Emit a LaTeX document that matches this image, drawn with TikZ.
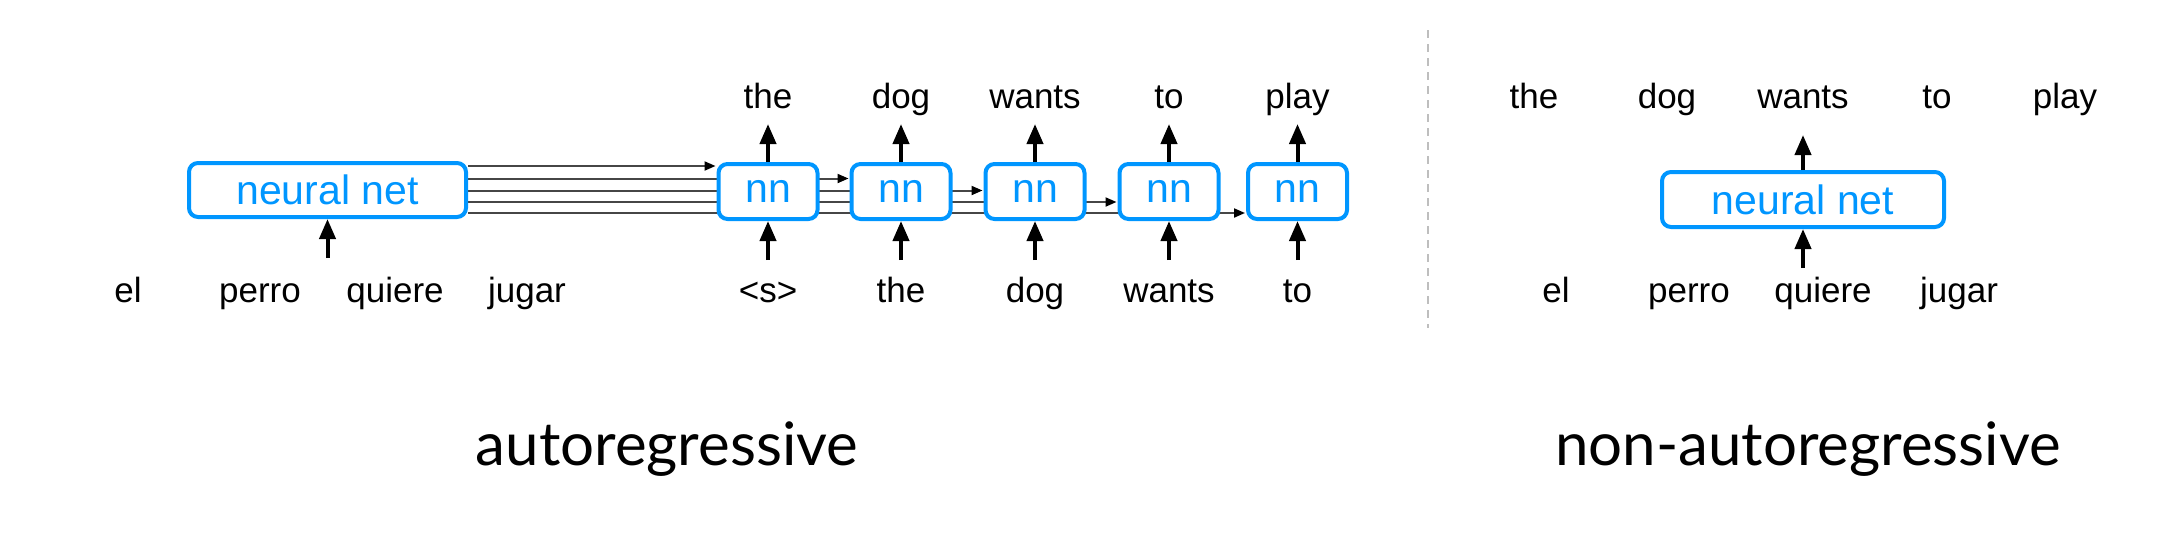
\documentclass[tikz,border=0pt]{standalone}
\usepackage{fontspec}
\setmainfont{Liberation Sans}
\newfontfamily\titlefont{Lato}
\usetikzlibrary{arrows.meta,calc}
\pgfdeclarelayer{background}
\pgfsetlayers{background,main}
\definecolor{nnblue}{RGB}{0,150,255}
\definecolor{linegray}{RGB}{70,70,70}
\definecolor{dashgray}{RGB}{190,190,190}
\tikzset{
  word/.style={anchor=base, inner sep=0pt, font=\fontsize{35}{40}\selectfont},
  title/.style={anchor=base, inner sep=0pt, font=\titlefont\fontsize{60}{66}\selectfont},
  nnbox/.style={draw=nnblue, line width=4pt, rounded corners=9pt, fill=white,
     text=nnblue, inner sep=0pt, font=\fontsize{41}{46}\selectfont},
  smallbox/.style={nnbox, minimum width=99pt, minimum height=55pt},
  bigarrow/.style={line width=4pt, -{Triangle[length=20pt,width=16pt]}},
  linkarrow/.style={line width=2pt, draw=linegray, -{Triangle[length=11pt,width=9pt,color=black]}, shorten >=1pt},
  divider/.style={draw=dashgray, line width=1.5pt, dash pattern=on 8pt off 6pt}
}
\begin{document}
\begin{tikzpicture}[x=1pt,y=-1pt]
\useasboundingbox (0,0) rectangle (2172,552);
% --- autoregressive part ---
\node[nnbox, minimum width=277pt, minimum height=54pt] (L) at (327.5,190) {neural net};
\node[smallbox] (n1) at (768,191.5) {nn};
\node[smallbox] (n2) at (901,191.5) {nn};
\node[smallbox] (n3) at (1035,191.5) {nn};
\node[smallbox] (n4) at (1169,191.5) {nn};
\node[smallbox] (n5) at (1297.5,191.5) {nn};
% level coordinates
\coordinate (h1) at (0,166);
\coordinate (h2) at (0,178.5);
\coordinate (h3) at (0,190.5);
\coordinate (h4) at (0,202);
\coordinate (h5) at (0,213);
\coordinate (tipA) at (0,124);
\coordinate (tailA) at (0,260);
\coordinate (tailL) at (0,258);
\begin{pgfonlayer}{background}
\draw[linkarrow] (L.east |- h1) -- (n1.west |- h1);
\draw[linkarrow] (L.east |- h2) -- (n2.west |- h2);
\draw[linkarrow] (L.east |- h3) -- (n3.west |- h3);
\draw[linkarrow] (L.east |- h4) -- (n4.west |- h4);
\draw[linkarrow] (L.east |- h5) -- (n5.west |- h5);
\end{pgfonlayer}
% input words (Spanish)
\node[word] (e1) at (128,302) {el};
\node[word] (e2) at (260,302) {perro};
\node[word] (e3) at (395,302) {quiere};
\node[word] (e4) at (527,302) {jugar};
\draw[bigarrow] (L.south |- tailL) -- (L.south);
% outputs and inputs per step
\foreach \i/\top/\bot in {1/the/{<s>},2/dog/the,3/wants/dog,4/to/wants,5/play/to}{
  \node[word] (t\i) at (n\i.center |- 0,108) {\top};
  \node[word] (s\i) at (n\i.center |- 0,302) {\bot};
  \draw[bigarrow] (n\i.north) -- (n\i.north |- tipA);
  \draw[bigarrow] (n\i.south |- tailA) -- (n\i.south);
}
% divider
\coordinate (d1) at (1428,30);
\coordinate (d2) at (1428,328);
\draw[divider] (d1) -- (d2);
% --- non-autoregressive part ---
\node[nnbox, minimum width=282pt, minimum height=55pt] (R) at (1803,199.5) {neural net};
\node[word] (rt1) at (1534,108) {the};
\node[word] (rt2) at (1667,108) {dog};
\node[word] (rt3) at (1803,108) {wants};
\node[word] (rt4) at (1937,108) {to};
\node[word] (rt5) at (2065,108) {play};
\node[word] (re1) at (1556,302) {el};
\node[word] (re2) at (1689,302) {perro};
\node[word] (re3) at (1823,302) {quiere};
\node[word] (re4) at (1959,302) {jugar};
\coordinate (tipR) at (0,135);
\coordinate (tailR) at (0,268);
\draw[bigarrow] (R.north) -- (R.north |- tipR);
\draw[bigarrow] (R.south |- tailR) -- (R.south);
% titles
\node[title] (ta) at (667,465) {autoregressive};
\node[title] (tb) at (1808,465) {non-autoregressive};
\end{tikzpicture}
\end{document}
